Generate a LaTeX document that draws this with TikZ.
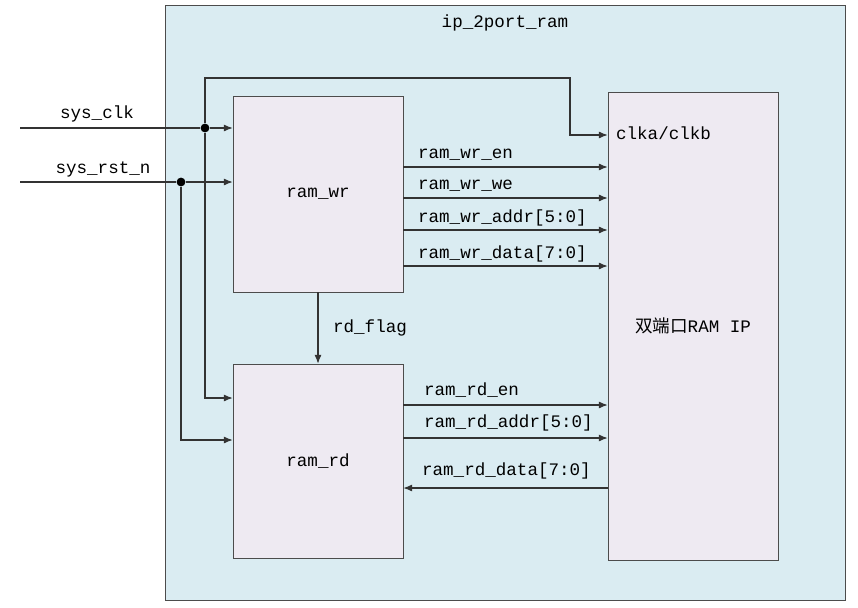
\documentclass[tikz,border=0pt]{standalone}
\usepackage{fontspec}
\setmonofont{Liberation Mono}
\newfontfamily\cjk{Noto Sans CJK SC}
\usetikzlibrary{arrows.meta}
\definecolor{bgblue}{RGB}{218,236,242}
\definecolor{boxfill}{RGB}{238,234,242}
\begin{document}
\begin{tikzpicture}[x=0.02cm,y=-0.02cm,
  blk/.style={draw=black!70,fill=boxfill,inner sep=0pt},
  sig/.style={-{Latex[length=5pt,width=4pt]},black!80,line width=0.6pt},
  lbl/.style={font=\fontsize{10}{12}\selectfont\ttfamily,inner sep=1pt},
  dot/.style={circle,fill=black,inner sep=0pt,minimum size=5pt}]
\useasboundingbox (0,0) rectangle (858,608);
\draw[black!70,fill=bgblue] (165,5) rectangle (845,600);
\node[lbl] (title) at (505,23) {ip\_2port\_ram};
\node[blk,minimum width=170*0.02cm,minimum height=196*0.02cm] (wr) at (318,194) {};
\node[lbl] at (wr) {ram\_wr};
\node[blk,minimum width=170*0.02cm,minimum height=194*0.02cm] (rd) at (318,461) {};
\node[lbl] at (rd) {ram\_rd};
\node[blk,minimum width=170*0.02cm,minimum height=468*0.02cm] (ip) at (693,326) {};
\node[lbl] at (ip) {{\cjk 双端口}RAM IP};
% inputs
\coordinate (clkin) at (20,128);
\coordinate (rstin) at (20,182);
\node[dot] (dclk) at (205,128) {};
\node[dot] (drst) at (181,182) {};
\node[lbl] at (97,114) {sys\_clk};
\node[lbl] at (103,169) {sys\_rst\_n};
\draw[black!80,line width=0.6pt] (clkin) -- (dclk);
\draw[black!80,line width=0.6pt] (rstin) -- (drst);
\draw[sig] (dclk) -- (wr.west |- dclk);
\draw[sig] (drst) -- (wr.west |- drst);
\draw[sig] (dclk) |- (rd.west |- 0,398);
\draw[sig] (drst) |- (rd.west |- 0,440);
\draw[sig] (dclk) |- (570,78) |- (ip.west |- 0,135);
\node[lbl,anchor=west] at (614,133) {clka/clkb};
% write signals
\foreach \y/\t in {167/ram\_wr\_en,198/ram\_wr\_we,230/ram\_wr\_addr[5:0],266/ram\_wr\_data[7:0]}{
  \draw[sig] (wr.east |- 0,\y) -- (ip.west |- 0,\y);
  \node[lbl,anchor=west] at (416,\y-12) {\t};
}
\draw[sig] (wr.south) -- (rd.north);
\node[lbl] at (370,328) {rd\_flag};
\foreach \y/\t in {405/ram\_rd\_en,438/ram\_rd\_addr[5:0]}{
  \draw[sig] (rd.east |- 0,\y) -- (ip.west |- 0,\y);
  \node[lbl,anchor=west] at (422,\y-15) {\t};
}
\draw[sig] (ip.west |- 0,488) -- (rd.east |- 0,488);
\node[lbl,anchor=west] at (420,471) {ram\_rd\_data[7:0]};
\end{tikzpicture}
\end{document}
